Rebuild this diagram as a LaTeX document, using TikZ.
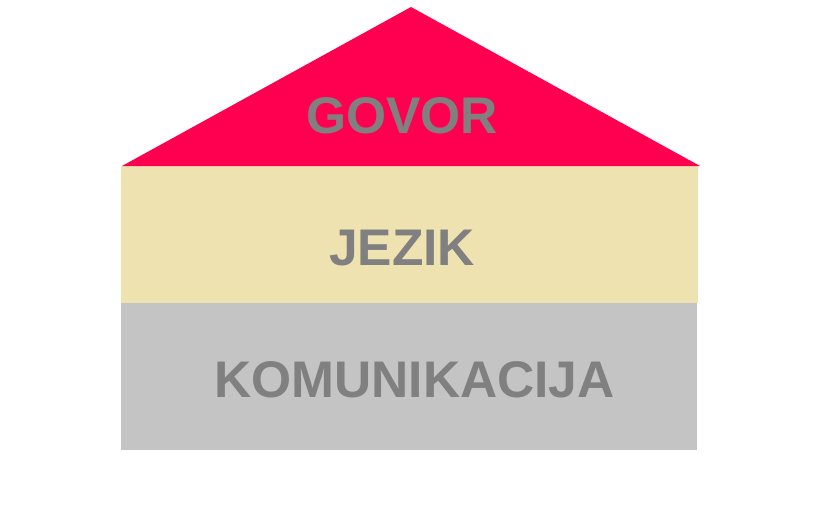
\documentclass[tikz,border=0pt]{standalone}
\usepackage{fontspec}
\setmainfont{Liberation Sans}
\definecolor{roofred}{HTML}{FF0050}
\definecolor{wallyellow}{HTML}{EEE2B0}
\definecolor{basegray}{HTML}{C4C4C4}
\definecolor{textgray}{HTML}{808080}
\tikzset{
  label/.style={anchor=base, inner sep=0pt, text=textgray, font=\fontsize{51.5}{52}\selectfont\bfseries}
}
\begin{document}
\begin{tikzpicture}[x=1pt,y=-1pt]
\useasboundingbox (0,0) rectangle (830,511);
\fill[basegray] (121,302) rectangle (697,450);
\fill[wallyellow] (121,166) rectangle (698,302.5);
\fill[roofred] (122,166) -- (411,7) -- (700,166) -- cycle;
\node[label] (govor) at (402,133) {GOVOR};
\node[label] (jezik) at (402,265) {JEZIK};
\node[label] (kom) at (414.5,397) {KOMUNIKACIJA};
\end{tikzpicture}
\end{document}
